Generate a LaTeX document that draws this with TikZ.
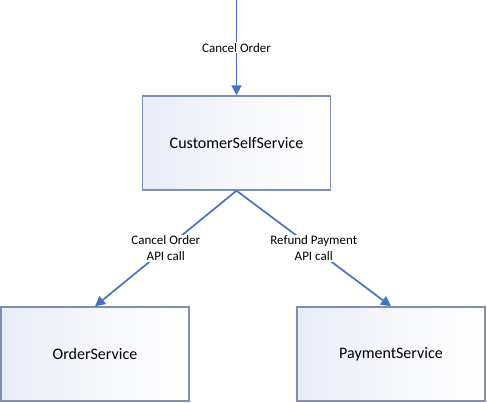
\documentclass[tikz,border=0pt]{standalone}
\usepackage{fontspec}
\setmainfont{Carlito}
\usetikzlibrary{arrows.meta}
\definecolor{ServiceEdge}{HTML}{7F8FB4}
\definecolor{ServiceFill}{HTML}{E8ECF7}
\definecolor{CallBlue}{HTML}{4472C4}
\tikzset{
    service/.style={draw=ServiceEdge, line width=1.4pt, left color=ServiceFill, right color=white,
        middle color=ServiceFill!40!white,
        minimum width=188pt, minimum height=94pt, font=\fontsize{16}{19}\selectfont},
    call/.style={draw=CallBlue, line width=1.7pt, -{Triangle[width=10pt,length=10pt]}},
    calltext/.style={fill=white, inner sep=1pt, align=center, font=\fontsize{13}{16}\selectfont}
}
\begin{document}
\begin{tikzpicture}[x=1pt,y=-1pt]
    \useasboundingbox (0,0) rectangle (487,403);
    \coordinate (Entry) at (236.5,0);
    \node[service] (CustomerSelfService) at (236.5,143) {CustomerSelfService};
    \node[service] (OrderService) at (95,354) {OrderService};
    \node[service] (PaymentService) at (391,354) {PaymentService};
    % incoming request
    \draw[call] (Entry) -- (CustomerSelfService.north)
        node[calltext, pos=0.5] {Cancel Order};
    % API calls
    \draw[call] (CustomerSelfService.south) -- (OrderService.north)
        node[calltext, pos=0.5] {Cancel Order\\API call};
    \draw[call] (CustomerSelfService.south) -- (PaymentService.north)
        node[calltext, pos=0.5] {Refund Payment\\API call};
\end{tikzpicture}
\end{document}
